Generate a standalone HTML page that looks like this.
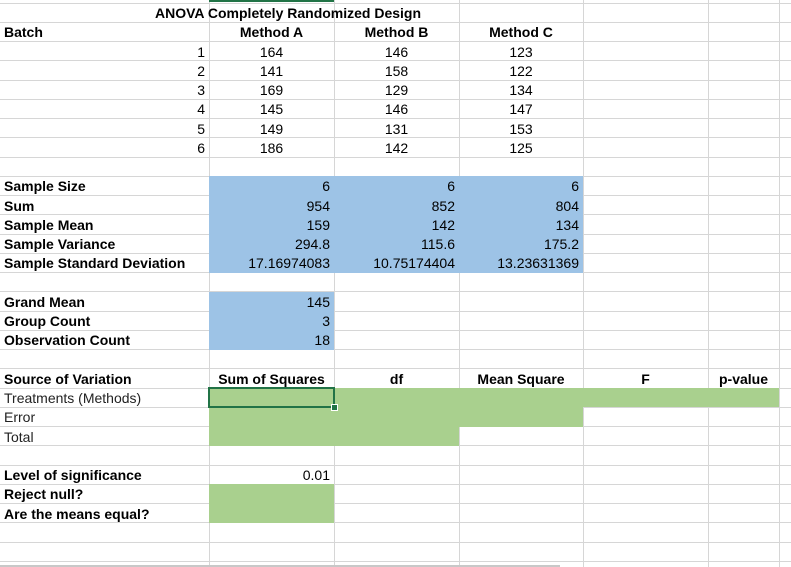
<!DOCTYPE html>
<html><head><meta charset="utf-8"><style>
body{margin:0;width:791px;height:567px;overflow:hidden;background:#fff;font-family:"Liberation Sans",Arial,sans-serif;}
#sheet{position:relative;width:791px;height:567px;}
.c{position:absolute;font-size:14px;color:#000;white-space:nowrap;line-height:19px;box-sizing:border-box;padding:0 4px;}
.b{font-weight:bold;}
.fill{position:absolute;}
.gl{position:absolute;background:#d6d6d6;}
</style></head><body>
<div id="sheet"></div>
<script>
const colX=[0,209,334,459,583,708,779];
const batches=[1,2,3,4,5,6];
const methodNames=["Method A","Method B","Method C"];
const methodA=[164,141,169,145,149,186];
const methodB=[146,158,129,146,131,142];
const methodC=[123,122,134,147,153,125];
const statLabels=["Sample Size","Sum","Sample Mean","Sample Variance","Sample Standard Deviation"];
const statA=["6","954","159","294.8","17.16974083"];
const statB=["6","852","142","115.6","10.75174404"];
const statC=["6","804","134","175.2","13.23631369"];
const grandLabels=["Grand Mean","Group Count","Observation Count"];
const grandVals=["145","3","18"];
const anovaHeaders=["Sum of Squares","df","Mean Square","F","p-value"];
const sheet=document.getElementById('sheet');
const RH=19.25, R0=3;
function rowY(r){return R0+RH*(r-1);}
function fill(c1,c2,r,color,name){
  const d=document.createElement('div');d.className='fill';
  
  
  d.style.left=colX[c1]+'px';d.style.width=(colX[c2]-colX[c1])+'px';
  d.style.top=rowY(r)+'px';d.style.height=(RH+0.5)+'px';d.style.background=color;
  sheet.appendChild(d);
}
function cell(text,col,r,align,bold,name,light){
  const d=document.createElement('div');d.className='c'+(bold?' b':'');
  
  
  d.textContent=text;
  d.style.left=colX[col]+'px';d.style.width=(colX[col+1]-colX[col])+'px';
  d.style.top=(rowY(r)+1)+'px';d.style.textAlign=align;
  if(light){d.style.color='#222';}
  sheet.appendChild(d);
}
// fills
const BLUE='#9dc3e6', GREEN='#a9d08e';
for(let r=10;r<=14;r++) fill(1,4,r,BLUE,'stats-fill');
for(let r=16;r<=18;r++) fill(1,2,r,BLUE,'grand-fill');
fill(1,6,21,GREEN,'treatments-fill');
fill(1,4,22,GREEN,'error-fill');
fill(1,3,23,GREEN,'total-fill');
fill(1,2,26,GREEN,'reject-fill');
fill(1,2,27,GREEN,'equal-fill');
// grid lines
for(let r=0;r<=30;r++){
  const g=document.createElement('div');g.className='gl';
  
  
  g.style.left='0px';g.style.width='791px';g.style.top=(rowY(r)-0.5)+'px';g.style.height='1px';
  sheet.appendChild(g);
}
for(let c=1;c<colX.length;c++){
  const g=document.createElement('div');g.className='gl';
  
  
  g.style.left=(colX[c]-0.5)+'px';g.style.width='1px';g.style.top='0px';g.style.height='567px';
  sheet.appendChild(g);
}
// re-cover gridlines inside filled regions (fills drawn over)
function cover(c1,c2,r1,r2,color){
  const d=document.createElement('div');d.className='fill';
  
  
  d.style.left=colX[c1]+'px';d.style.width=(colX[c2]-colX[c1])+'px';
  d.style.top=rowY(r1)+'px';d.style.height=(rowY(r2+1)-rowY(r1))+'px';d.style.background=color;
  sheet.appendChild(d);
}
cover(1,4,10,14,BLUE);cover(1,2,16,18,BLUE);
cover(1,6,21,21,GREEN);cover(1,4,22,22,GREEN);cover(1,3,23,23,GREEN);cover(1,2,22,23,GREEN);cover(1,2,26,27,GREEN);
// top green line
const tl=document.createElement('div');tl.className='fill';


tl.style.cssText='left:209px;width:125px;top:0;height:2px;background:#217346;';
sheet.appendChild(tl);
// title
const t=document.createElement('div');t.className='c b';


t.textContent='ANOVA Completely Randomized Design';
t.style.left='151px';t.style.top=(rowY(1)+1)+'px';
sheet.appendChild(t);
cell('Batch',0,2,'left',true,'batch-header');
methodNames.forEach((m,i)=>cell(m,i+1,2,'center',true,'method-header'));
batches.forEach((b,i)=>{
  cell(String(b),0,3+i,'right',false,'batch-number');
  cell(String(methodA[i]),1,3+i,'center',false,'method-a-value');
  cell(String(methodB[i]),2,3+i,'center',false,'method-b-value');
  cell(String(methodC[i]),3,3+i,'center',false,'method-c-value');
});
statLabels.forEach((s,i)=>{
  cell(s,0,10+i,'left',true,'stat-label');
  cell(statA[i],1,10+i,'right',false,'stat-a');
  cell(statB[i],2,10+i,'right',false,'stat-b');
  cell(statC[i],3,10+i,'right',false,'stat-c');
});
grandLabels.forEach((s,i)=>{
  cell(s,0,16+i,'left',true,'grand-label');
  cell(grandVals[i],1,16+i,'right',false,'grand-value');
});
cell('Source of Variation',0,20,'left',true,'source-header');
anovaHeaders.forEach((h,i)=>{
  cell(h,i+1,20,'center',true,'anova-header');
});
cell('Treatments (Methods)',0,21,'left',false,'treatments-label',true);
cell('Error',0,22,'left',false,'error-label',true);
cell('Total',0,23,'left',false,'total-label',true);
cell('Level of significance',0,25,'left',true,'significance-label');
cell('0.01',1,25,'right',false,'significance-value');
cell('Reject null?',0,26,'left',true,'reject-label');
cell('Are the means equal?',0,27,'left',true,'means-equal-label');
// underline for Sum of Squares header
// selection box
const sel=document.createElement('div');


sel.style.cssText='position:absolute;box-sizing:border-box;border:2px solid #217346;left:208px;width:127px;top:'+(rowY(21)-1)+'px;height:'+(RH+2)+'px;';
sheet.appendChild(sel);
const h=document.createElement('div');


h.style.cssText='position:absolute;width:5px;height:5px;background:#217346;border:1px solid #fff;left:331px;top:'+(rowY(22)-3)+'px;';
sheet.appendChild(h);
// bottom scrollbar edge
const sb=document.createElement('div');


sb.style.cssText='position:absolute;left:0;width:560px;top:565px;height:2px;background:#c8c8c8;';
sheet.appendChild(sb);
</script>
</body></html>
